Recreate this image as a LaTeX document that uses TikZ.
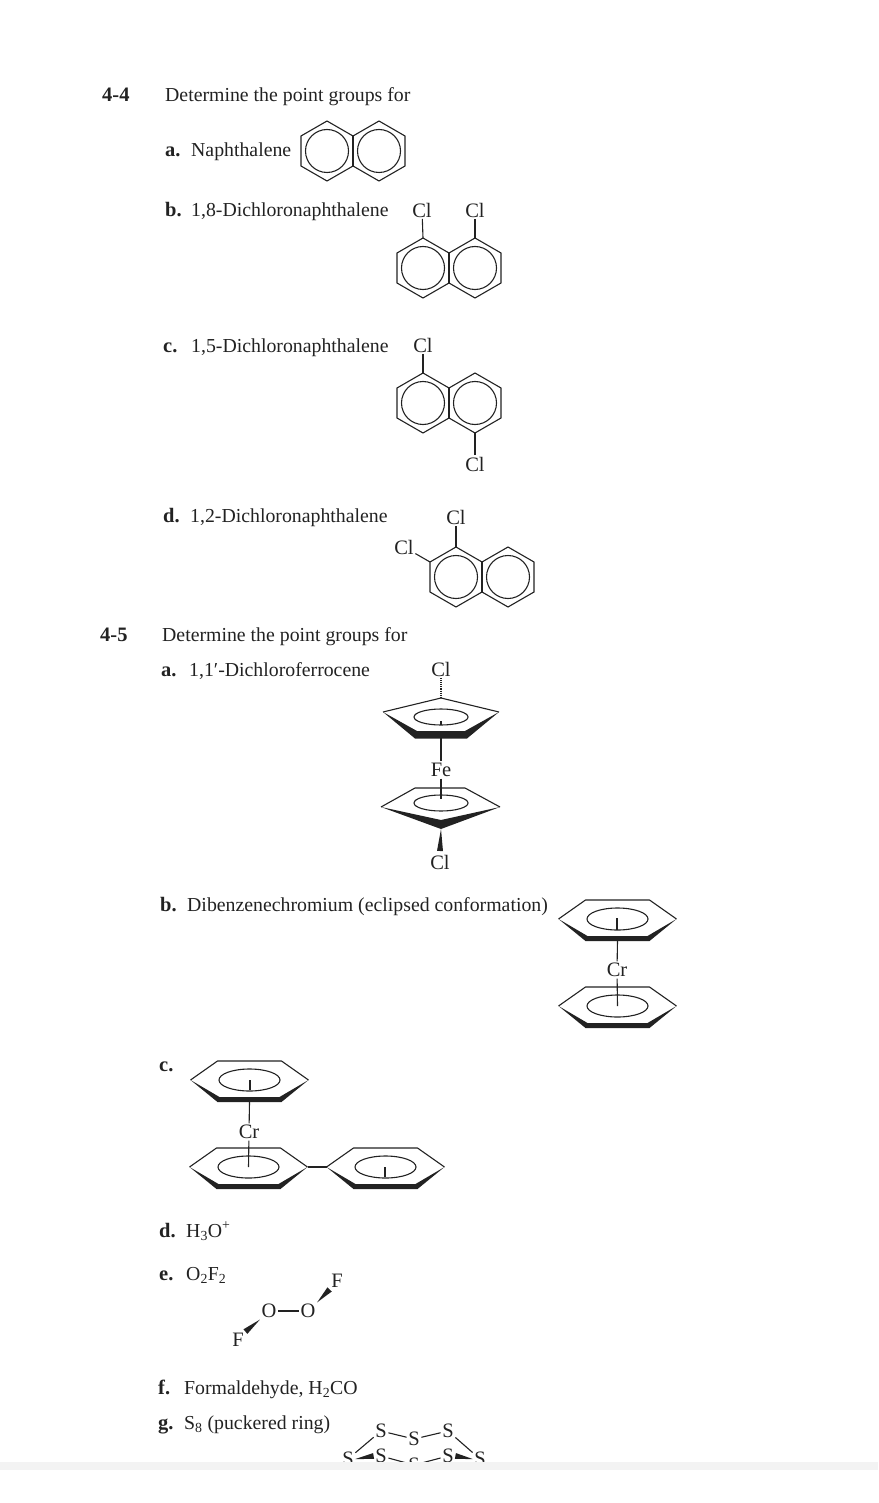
\documentclass[tikz,border=0pt]{standalone}
\usepackage{fontspec}
\setmainfont{Liberation Serif}
\usepackage{tikz}
\usetikzlibrary{calc,positioning}

\definecolor{inkcol}{HTML}{222222}
\definecolor{bandcol}{HTML}{F3F3F3}

\tikzset{
    lbl/.style={anchor=base west,inner sep=0pt,text=inkcol,font=\fontsize{19.8}{22}\selectfont},
    tag/.style={lbl,font=\fontsize{20.5}{22}\selectfont\bfseries},
    atom/.style={inner sep=1.5pt,text=inkcol,font=\fontsize{20.5}{22}\selectfont},
    bond/.style={draw=inkcol,line width=1.1pt},
    ring/.style={draw=inkcol,line width=1.1pt,line join=miter},
    % naphthalene, placed by the centre of its left ring
    pics/naph/.style={code={
        \coordinate (-lt) at (0,-30);
        \coordinate (-lb) at (0,30);
        \coordinate (-lu) at (-26,-15);
        \coordinate (-rt) at (52,-30);
        \coordinate (-rb) at (52,30);
        \draw[ring] (-lt) -- (26,-15) -- (-rt) -- (78,-15) -- (78,15) -- (-rb) -- (26,15) -- (-lb) -- (-26,15) -- (-lu) -- cycle;
        \draw[ring] (26,-15) -- (26,15);
        \draw[ring] (0,0) circle (21.5);
        \draw[ring] (52,0) circle (21.5);
    }},
    % benzene seen from the side
    pics/sidering/.style={code={
        \coordinate (-w) at (-59,0);
        \coordinate (-e) at (59,0);
        \coordinate (-n) at (0,-19);
        \coordinate (-s) at (0,22);
        \coordinate (-c) at (0,0);
        \draw[ring] (-w) -- (-32,-19) -- (32,-19) -- (-e);
        \fill[inkcol] (-w) -- (-32,22) -- (32,22) -- (-e) -- (30,17) -- (-30,17) -- cycle;
        \draw[ring] (0,0) ellipse (30.5 and 11);
    }},
}

% narrow end at the first point, wide end at the second
\newcommand{\wedgebond}[3]{\fill[inkcol] (#1) -- ($(#2)!#3!90:(#1)$) -- ($(#2)!#3!-90:(#1)$) -- cycle;}

\begin{document}
\begin{tikzpicture}[x=1pt,y=-1pt]
    \useasboundingbox (0,0) rectangle (878,1503);

    % Problem 4-4
    \node[tag] (num44) at (102,102) {4-4};
    \node[lbl] (head44) at (165,102) {Determine the point groups for};

    \node[tag] (tag44a) at (165,157) {a.};
    \node[lbl] (txt44a) at (191,157) {Naphthalene};
    \pic (nafa) at (327,151) {naph};

    \node[tag] (tag44b) at (165,217) {b.};
    \node[lbl] (txt44b) at (191,217) {1,8-Dichloronaphthalene};
    \pic (nafb) at (423,268) {naph};
    \node[atom] (clb1) at (422,210) {Cl};
    \node[atom] (clb2) at (475,210) {Cl};
    \draw[bond] (clb1) -- (nafb-lt);
    \draw[bond] (clb2) -- (nafb-rt);

    \node[tag] (tag44c) at (163,352) {c.};
    \node[lbl] (txt44c) at (191,352) {1,5-Dichloronaphthalene};
    \pic (nafc) at (423,403) {naph};
    \node[atom] (clc1) at (423,345) {Cl};
    \node[atom] (clc2) at (475,464) {Cl};
    \draw[bond] (clc1) -- (nafc-lt);
    \draw[bond] (clc2) -- (nafc-rb);

    \node[tag] (tag44d) at (163,522) {d.};
    \node[lbl] (txt44d) at (190,522) {1,2-Dichloronaphthalene};
    \pic (nafd) at (456,577) {naph};
    \node[atom] (cld1) at (456,517) {Cl};
    \node[atom] (cld2) at (404,547) {Cl};
    \draw[bond] (cld1) -- (nafd-lt);
    \draw[bond] (cld2) -- (nafd-lu);

    % Problem 4-5
    \node[tag] (num45) at (100,641) {4-5};
    \node[lbl] (head45) at (162,641) {Determine the point groups for};

    % ferrocene
    \node[tag] (tag45a) at (161,676) {a.};
    \node[lbl] (txt45a) at (189,676) {1,1′-Dichloroferrocene};
    \coordinate (fa) at (441,698);
    \coordinate (fb) at (441,738);
    \draw[ring] (383,712) -- (fa) -- (499,712);
    \fill[inkcol] (383,712) -- (415,738.5) -- (467,738.5) -- (499,712) -- (465,731) -- (417,731) -- cycle;
    \draw[ring] (441,717) ellipse (27 and 8);
    \draw[bond] (441,721) -- (441,725);
    \node[atom] (clfa) at (441,669) {Cl};
    \node[atom] (fe) at (441,770) {Fe};
    \draw[bond,densely dotted] (clfa) -- (fa);
    \draw[bond] (fb) -- (fe);
    \coordinate (fc) at (441,799);
    \coordinate (fd) at (441,829);
    \draw[ring] (381,807) -- (415,788) -- (465,788) -- (500,807);
    \fill[inkcol] (381,807) -- (fd) -- (500,807) -- (441,820) -- cycle;
    \draw[ring] (441,803) ellipse (27 and 8);
    \draw[bond] (fe) -- (fc);
    \node[atom] (clfb) at (440,862) {Cl};
    \coordinate (fw) at (440,851);
    \wedgebond{fd}{fw}{3pt}

    % dibenzenechromium
    \node[tag] (tag45b) at (160,911) {b.};
    \node[lbl] (txt45b) at (187,911) {Dibenzenechromium (eclipsed conformation)};
    \pic (dba) at (617.5,919) {sidering};
    \pic (dbb) at (617.5,1006) {sidering};
    \node[atom] (crb) at (617,970) {Cr};
    \coordinate (dbt) at (617,930);
    \draw[bond] (617,918) -- (dbt);
    \draw[bond] (dba-s) -- (crb);
    \draw[bond] (crb) -- (dbb-c);

    % biphenyl complex
    \node[tag] (tag45c) at (159,1071) {c.};
    \pic (bpa) at (249.5,1080) {sidering};
    \pic (bpb) at (248.5,1167) {sidering};
    \pic (bpc) at (385.5,1167) {sidering};
    \node[atom] (crc) at (249,1132) {Cr};
    \draw[bond] (250,1080) -- (250,1090);
    \draw[bond] (bpa-s) -- (crc);
    \draw[bond] (crc) -- (bpb-c);
    \draw[bond] (385,1167) -- (385,1177);
    \draw[bond] (bpb-e) -- (bpc-w);

    \node[tag] (tag45d) at (159,1237) {d.};
    \node[lbl] (txt45d) at (186,1237) {H\textsubscript{3}O\textsuperscript{+}};

    % peroxide
    \node[tag] (tag45e) at (159,1280) {e.};
    \node[lbl] (txt45e) at (186,1280) {O\textsubscript{2}F\textsubscript{2}};
    \node[atom] (fl) at (238,1340) {F};
    \node[atom] (ol) at (269,1311) {O};
    \node[atom] (or) at (308,1311) {O};
    \node[atom] (fr) at (337,1281) {F};
    \draw[bond] (ol) -- (or);
    \wedgebond{ol.south west}{fl.north east}{3pt}
    \wedgebond{or.north east}{fr.south west}{3pt}

    \node[tag] (tag45f) at (158,1394) {f.};
    \node[lbl] (txt45f) at (184,1394) {Formaldehyde, H\textsubscript{2}CO};

    % sulfur ring, cut off by the band
    \node[tag] (tag45g) at (158,1429) {g.};
    \node[lbl] (txt45g) at (184,1429) {S\textsubscript{8} (puckered ring)};
    \node[atom] (sa) at (381,1431) {S};
    \node[atom] (sb) at (414,1439) {S};
    \node[atom] (sc) at (448,1431) {S};
    \node[atom] (sd) at (480,1459) {S};
    \node[atom] (se) at (448,1456) {S};
    \node[atom] (sf) at (414,1465) {S};
    \node[atom] (sg) at (381,1456) {S};
    \node[atom] (sh) at (348,1459) {S};
    \draw[bond] (sa) -- (sb);
    \draw[bond] (sb) -- (sc);
    \draw[bond] (sc) -- (sd);
    \draw[bond] (sa) -- (sh);
    \draw[bond] (se) -- (sf);
    \draw[bond] (sf) -- (sg);
    \wedgebond{sh.east}{sg.west}{3pt}
    \wedgebond{sd.west}{se.east}{3pt}

    % band at the foot of the page
    \fill[white] (0,1462) rectangle (878,1503);
    \fill[bandcol] (0,1462) rectangle (878,1470);
\end{tikzpicture}
\end{document}
